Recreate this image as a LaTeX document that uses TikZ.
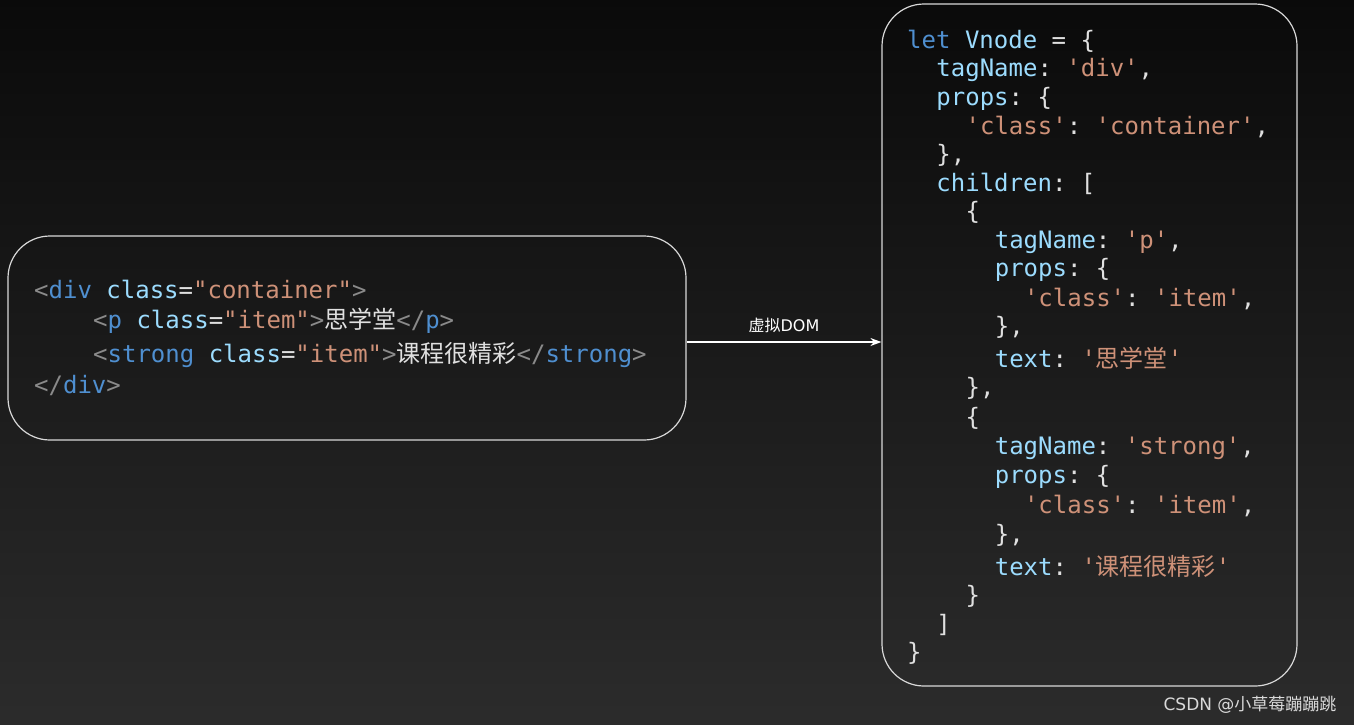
\documentclass[tikz,border=0pt]{standalone}
\usepackage{fontspec}
\setmainfont{DejaVu Sans}
\setmonofont{DejaVu Sans Mono}
\newfontfamily\cjk{Noto Sans CJK SC}
\usetikzlibrary{arrows.meta}
\definecolor{kwblue}{HTML}{4F8FD0}
\definecolor{atblue}{HTML}{9CDCFE}
\definecolor{strorg}{HTML}{CE9178}
\definecolor{pungray}{HTML}{8A8A8A}
\definecolor{txwhite}{HTML}{E0E0E0}
\newcommand\Kw[1]{\textcolor{kwblue}{#1}}
\newcommand\Att[1]{\textcolor{atblue}{#1}}
\newcommand\Str[1]{\textcolor{strorg}{#1}}
\newcommand\Pun[1]{\textcolor{pungray}{#1}}
\newcommand\Wh[1]{\textcolor{txwhite}{#1}}
\begin{document}
\begin{tikzpicture}[x=1pt,y=-1pt,
  code/.style={anchor=west,inner sep=0pt,font=\ttfamily\fontsize{24}{24}\selectfont,text=txwhite},
  box/.style={draw=white!85!black,line width=1.2pt,rounded corners=42pt}]
\shade[top color=black!96,bottom color=black!83] (0,0) rectangle (1354,724);
\useasboundingbox (0,0) rectangle (1354,724);
\node[box,minimum width=678pt,minimum height=204pt] (L) at (347,338) {};
\node[box,minimum width=415pt,minimum height=682pt] (R) at (1089.5,345) {};
% left code
\node[code] (l1) at (34,289) {\Pun{<}\Kw{div} \Att{class}\Wh{=}\Str{"container"}\Pun{>}};
\node[code] (l2) at (93,321) {\Pun{<}\Kw{p} \Att{class}\Wh{=}\Str{"item"}\Pun{>}{\cjk 思学堂}\Pun{</}\Kw{p}\Pun{>}};
\node[code] (l3) at (93,355) {\Pun{<}\Kw{strong} \Att{class}\Wh{=}\Str{"item"}\Pun{>}{\cjk 课程很精彩}\Pun{</}\Kw{strong}\Pun{>}};
\node[code] (l4) at (34,385) {\Pun{</}\Kw{div}\Pun{>}};
% right code
\def\ind#1{\fpeval{907+#1*14.6}}
\node[code] (r0) at (\ind{0},41) {\Kw{let} \Att{Vnode} = \{};
\node[code] (r1) at (\ind{2},70) {\Att{tagName}: \Str{'div'},};
\node[code] (r2) at (\ind{2},99) {\Att{props}: \{};
\node[code] (r3) at (\ind{4},127) {\Str{'class'}: \Str{'container'},};
\node[code] (r4) at (\ind{2},155) {\},};
\node[code] (r5) at (\ind{2},184) {\Att{children}: [};
\node[code] (r6) at (\ind{4},212) {\{};
\node[code] (r7) at (\ind{6},242) {\Att{tagName}: \Str{'p'},};
\node[code] (r8) at (\ind{6},270) {\Att{props}: \{};
\node[code] (r9) at (\ind{8},299) {\Str{'class'}: \Str{'item'},};
\node[code] (r10) at (\ind{6},327) {\},};
\node[code] (r11) at (\ind{6},358) {\Att{text}: \Str{'{\cjk 思学堂}'}};
\node[code] (r12) at (\ind{4},388) {\},};
\node[code] (r13) at (\ind{4},418) {\{};
\node[code] (r14) at (\ind{6},448) {\Att{tagName}: \Str{'strong'},};
\node[code] (r15) at (\ind{6},477) {\Att{props}: \{};
\node[code] (r16) at (\ind{8},506) {\Str{'class'}: \Str{'item'},};
\node[code] (r17) at (\ind{6},535) {\},};
\node[code] (r18) at (\ind{6},566) {\Att{text}: \Str{'{\cjk 课程很精彩}'}};
\node[code] (r19) at (\ind{4},596) {\}};
\node[code] (r20) at (\ind{2},625) {]};
\node[code] (r21) at (\ind{0},653) {\}};
% arrow
\draw[white,line width=1.5pt,-{Stealth[length=11pt,width=8pt]}] (L.east|-0,342) -- (R.west|-0,342)
  node[midway,above=5pt,text=white,font=\fontsize{16}{16}\selectfont] (lab) {{\cjk 虚拟}DOM};
\node[anchor=east,text=white!85!black,font=\fontsize{17}{17}\selectfont] (wm) at (1340,705) {CSDN @{\cjk 小草莓蹦蹦跳}};
\end{tikzpicture}
\end{document}
